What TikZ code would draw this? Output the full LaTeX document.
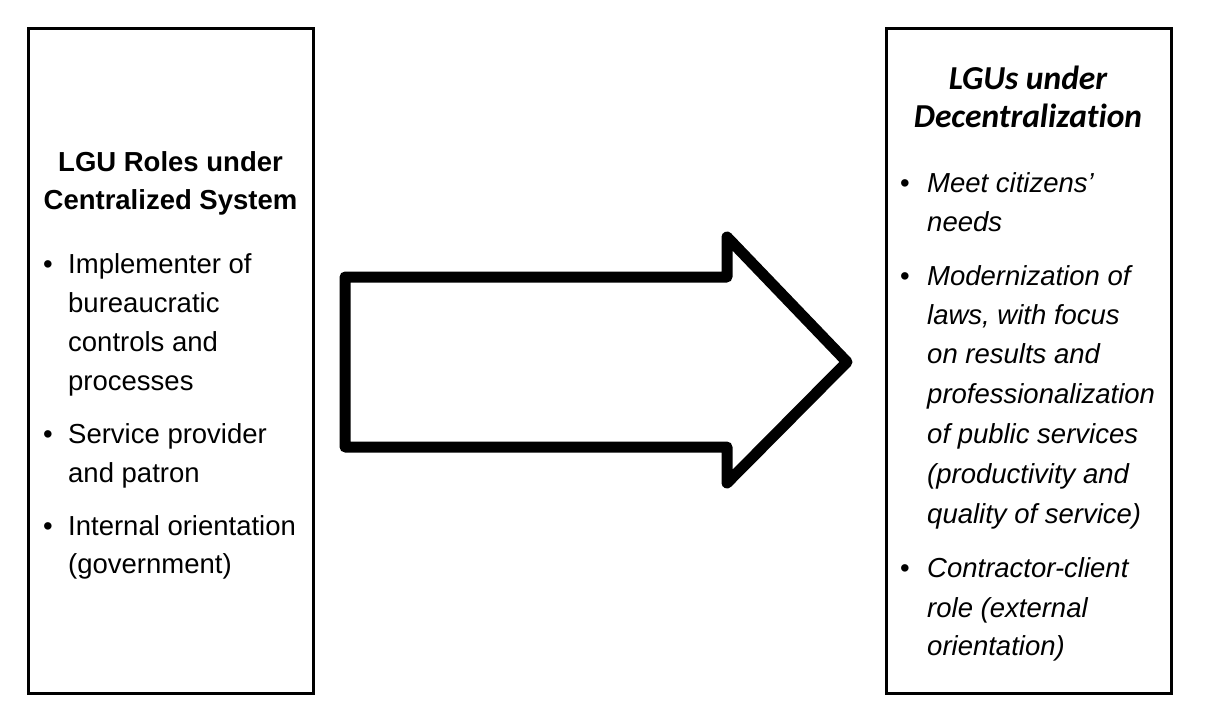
\documentclass[tikz,border=0pt]{standalone}
\usepackage{fontspec}
\setmainfont{Liberation Sans}
\newfontfamily\calib[Ligatures={NoCommon,NoContextual}]{Carlito}
\begin{document}
\begin{tikzpicture}[x=1pt,y=-1pt,
  txt/.style={inner sep=0pt, anchor=base west, font=\fontsize{27.5}{39}\selectfont},
  itxt/.style={txt, font=\fontsize{27.5}{39}\selectfont\itshape},
  bul/.style={inner sep=0pt, anchor=base, font=\fontsize{27.5}{39}\selectfont},
  ltitle/.style={inner sep=0pt, anchor=base, font=\fontsize{27.5}{39}\selectfont\bfseries},
  rtitle/.style={inner sep=0pt, anchor=base, font=\fontsize{33.5}{39}\selectfont\calib\bfseries\itshape},
  panel/.style={draw, line width=3pt, minimum width=285pt, minimum height=664pt, inner sep=0pt},
  bigarrow/.style={draw, line width=11pt, line join=round}]
\useasboundingbox (0,0) rectangle (1222,703);
\fill[white] (0,0) rectangle (1222,703);
% boxes
\node[panel] (L) at (170.5,361) {};
\node[panel] (R) at (1028.5,361) {};
% arrow
\draw[bigarrow] (345,277) -- (727,277) -- (727,237) -- (847,362) -- (727,483) -- (727,447) -- (345,447) -- cycle;
% left title
\node[ltitle] (lt1) at (170.5,172) {LGU Roles under};
\node[ltitle] (lt2) at (170.5,210) {Centralized System};
% left bullets
\node[bul] (lb1) at (48,273) {•};
\node[txt] (l1) at (68,273) {Implementer of};
\node[txt] (l2) at (68,312) {bureaucratic};
\node[txt] (l3) at (68,351) {controls and};
\node[txt] (l4) at (68,390) {processes};
\node[bul] (lb2) at (48,443) {•};
\node[txt] (l5) at (68,443) {Service provider};
\node[txt] (l6) at (68,482) {and patron};
\node[bul] (lb3) at (48,535) {•};
\node[txt] (l7) at (68,535) {Internal orientation};
\node[txt] (l8) at (68,573) {(government)};
% right title
\node[rtitle] (rt1) at (1028,90) {LGUs under};
\node[rtitle] (rt2) at (1028,128) {Decentralization};
% right bullets
\node[bul] (rb1) at (905,193) {•};
\node[itxt] (r1) at (927,193) {Meet citizens’};
\node[itxt] (r2) at (927,232) {needs};
\node[bul] (rb2) at (905,285) {•};
\node[itxt] (r3) at (927,285) {Modernization of};
\node[itxt] (r4) at (927,324) {laws, with focus};
\node[itxt] (r5) at (927,363) {on results and};
\node[itxt] (r6) at (927,403) {professionalization};
\node[itxt] (r7) at (927,443) {of public services};
\node[itxt] (r8) at (927,483) {(productivity and};
\node[itxt] (r9) at (927,523) {quality of service)};
\node[bul] (rb3) at (905,577) {•};
\node[itxt] (r10) at (927,577) {Contractor-client};
\node[itxt] (r11) at (927,617) {role (external};
\node[itxt] (r12) at (927,655) {orientation)};
\end{tikzpicture}
\end{document}
